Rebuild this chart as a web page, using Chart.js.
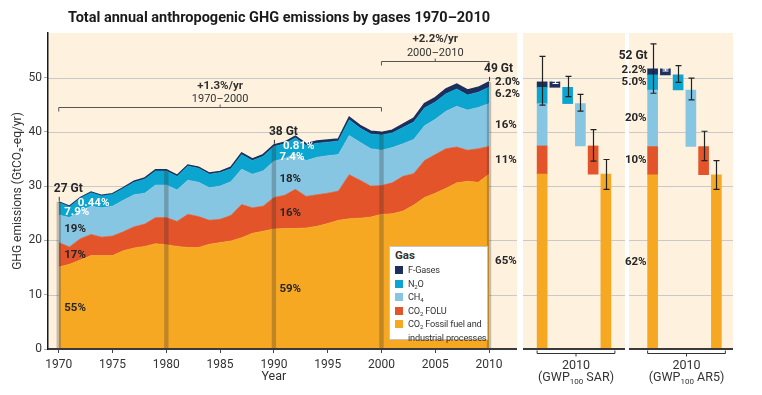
<!DOCTYPE html>
<html>
<head>
<meta charset="utf-8">
<script src="https://cdn.jsdelivr.net/npm/chart.js@4.4.1/dist/chart.umd.min.js"></script>
<style>
  html, body { margin: 0; padding: 0; background: #fff; }
  #wrap { position: relative; width: 762px; height: 395px; overflow: hidden; }
  canvas { position: absolute; top: 0; }
  #main { left: 0; }
  #sar { left: 520px; }
  #ar5 { left: 600px; }
  #legend { position: absolute; left: 389px; top: 246px; width: 99px; height: 94px; box-sizing: border-box;
    background: #fff; border: 1px solid #c4c4c4; padding: 1px 0 0 5px; white-space: nowrap;
    font: 9.2px Roboto, 'Noto Sans', sans-serif; letter-spacing: -0.2px; color: #333; line-height: 13.5px; }
  #legend .t { font-weight: bold; font-size: 11.5px; line-height: 15px; letter-spacing: 0; }
  #legend .i { position: relative; padding-left: 13px; }
  #legend .s { position: absolute; left: 0; top: 3px; width: 8px; height: 8px; }
  #legend sub { font-size: 6px; line-height: 0; vertical-align: -2px; }
</style>
</head>
<body>
<div id="wrap">
  <canvas id="main" width="520" height="395"></canvas>
  <canvas id="sar" width="107" height="395"></canvas>
  <canvas id="ar5" width="162" height="395"></canvas>
  <div id="legend"></div>
</div>
<script>
const years = [1970, 1971, 1972, 1973, 1974, 1975, 1976, 1977, 1978, 1979,
  1980, 1981, 1982, 1983, 1984, 1985, 1986, 1987, 1988, 1989,
  1990, 1991, 1992, 1993, 1994, 1995, 1996, 1997, 1998, 1999,
  2000, 2001, 2002, 2003, 2004, 2005, 2006, 2007, 2008, 2009, 2010];

// GtCO2-eq/yr per gas
const co2Fossil = [15.1, 15.6, 16.4, 17.2, 17.2, 17.2, 18.1, 18.6, 18.9, 19.4,
  19.2, 18.9, 18.7, 18.7, 19.3, 19.6, 19.9, 20.5, 21.3, 21.7,
  22.1, 22.2, 22.2, 22.3, 22.6, 23.1, 23.7, 24.0, 24.1, 24.3,
  24.8, 24.9, 25.4, 26.5, 27.9, 28.7, 29.6, 30.6, 30.9, 30.7, 32.2];
const co2Folu = [4.5, 3.2, 3.9, 3.9, 3.4, 3.6, 3.5, 3.9, 4.1, 4.8,
  5.0, 4.6, 6.1, 5.7, 4.4, 4.3, 4.7, 6.1, 4.7, 4.6,
  5.8, 6.1, 7.2, 5.8, 5.8, 5.6, 5.4, 8.1, 7.0, 5.7,
  5.3, 5.7, 6.4, 5.8, 6.8, 7.1, 7.3, 6.6, 5.7, 6.2, 5.1];
const ch4 = [5.1, 5.4, 5.2, 5.2, 5.4, 5.5, 5.8, 5.9, 5.7, 6.0,
  6.0, 5.8, 6.3, 6.3, 6.0, 6.1, 6.2, 6.5, 6.2, 6.5,
  6.7, 6.8, 6.5, 6.6, 6.9, 6.9, 6.7, 7.2, 7.0, 6.9,
  6.5, 6.5, 6.0, 6.3, 6.4, 6.5, 6.9, 7.5, 7.4, 7.6, 7.9];
const n2o = [2.3, 2.0, 2.3, 2.5, 2.2, 2.2, 2.2, 2.3, 2.6, 2.6,
  2.6, 2.5, 2.6, 2.6, 2.5, 2.5, 2.4, 2.7, 2.5, 2.7,
  2.7, 2.7, 3.0, 2.8, 2.6, 2.5, 2.5, 2.9, 2.6, 2.7,
  2.8, 2.7, 3.0, 3.2, 3.3, 3.2, 3.2, 3.2, 2.8, 2.8, 3.0];
const fGases = [0.1, 0.1, 0.1, 0.1, 0.1, 0.1, 0.1, 0.2, 0.2, 0.2,
  0.2, 0.2, 0.2, 0.2, 0.2, 0.2, 0.3, 0.3, 0.3, 0.3,
  0.3, 0.3, 0.3, 0.3, 0.4, 0.4, 0.4, 0.5, 0.5, 0.5,
  0.5, 0.5, 0.6, 0.7, 0.8, 0.8, 0.9, 0.9, 0.9, 0.9, 1.0];

const gasNames = ['CO<sub>2</sub> Fossil fuel and<br>industrial processes', 'CO<sub>2</sub> FOLU', 'CH<sub>4</sub>', 'N<sub>2</sub>O', 'F-Gases'];
const gasColors = ['#f7a823', '#e3542a', '#86c6e3', '#0ba5cf', '#1c2f5e'];

const xTicks = [1970, 1975, 1980, 1985, 1990, 1995, 2000, 2005, 2010];
const yTicks = [0, 10, 20, 30, 40, 50];

const bandYears = [1970, 1980, 1990, 2000, 2010];
const shareYears = [1970, 1990, 2010];
const totalLabels = ['27 Gt', '38 Gt', '49 Gt'];
const shareFossil = ['55%', '59%', '65%'];
const shareFolu = ['17%', '16%', '11%'];
const shareCh4 = ['19%', '18%', '16%'];
const shareN2o = ['7.9%', '7.4%', '6.2%'];
const shareF = ['0.44%', '0.81%', '2.0%'];

const rateLabels = ['+1.3%/yr', '+2.2%/yr'];
const rateFrom = [1970, 2000];
const rateTo = [2000, 2010];

// 2010 bars, order: fossil, FOLU, CH4, N2O, F-gases
const panelSlots = ['', 'Total', 'F-Gases', 'N2O', 'CH4', 'CO2 FOLU', 'CO2 Fossil', ''];
const sar2010 = [32.2, 5.2, 7.8, 3.0, 1.0];
const ar52010 = [32.1, 5.2, 10.4, 2.8, 1.1];
const ar5Shares = ['62%', '10%', '20%', '5.0%', '2.2%'];
const ar5Total = '52 Gt';
// uncertainty ranges, order: total, F-gases, N2O, CH4, FOLU, fossil
const sarErrLow = [44.9, 48.9, 46.5, 43.8, 34.6, 29.4];
const sarErrHigh = [53.9, 49.4, 50.2, 46.9, 40.4, 34.9];
const ar5ErrLow = [47.1, 51.2, 49.1, 45.9, 34.7, 29.4];
const ar5ErrHigh = [56.2, 51.6, 52.2, 49.9, 40.1, 34.7];

const FONT = "Roboto, 'Noto Sans', sans-serif";
const CREAM = '#fef2df';
const GRID = '#c9c9c9';
const INK = '#262626';
const YMAX = 58.2;

const series = [co2Fossil, co2Folu, ch4, n2o, fGases];

function gridLines(ctx, y, l, r) {
  ctx.strokeStyle = GRID;
  ctx.lineWidth = 1;
  yTicks.forEach(v => {
    if (!v) return;
    const py = Math.round(y.getPixelForValue(v)) + 0.5;
    ctx.beginPath(); ctx.moveTo(l, py); ctx.lineTo(r, py); ctx.stroke();
  });
}

function text(ctx, str, x, y, size, weight, color, align) {
  ctx.font = (weight || 'normal') + ' ' + size + 'px ' + FONT;
  ctx.fillStyle = color || INK;
  ctx.textAlign = align || 'left';
  ctx.textBaseline = 'middle';
  ctx.fillText(str, x, y);
}

// "(GWP" + subscript 100 + " SAR)"
function gwpText(ctx, method, cx, cy) {
  const parts = [['(GWP', 12.5, 0], ['100', 8, 4], [' ' + method + ')', 12.5, 0]];
  let w = 0;
  parts.forEach(p => { ctx.font = p[1] + 'px ' + FONT; w += ctx.measureText(p[0]).width; });
  let x = cx - w / 2;
  parts.forEach(p => {
    text(ctx, p[0], x, cy + p[2], p[1], 'normal', '#333', 'left');
    x += ctx.measureText(p[0]).width;
  });
}

const mainPlugin = {
  id: 'mainDeco',
  beforeDraw(chart) {
    const { ctx, chartArea: a, scales: { y } } = chart;
    ctx.save();
    ctx.fillStyle = CREAM;
    ctx.fillRect(a.left, a.top, a.right - a.left, a.bottom - a.top);
    gridLines(ctx, y, a.left, a.right);
    ctx.restore();
  },
  afterDatasetsDraw(chart) {
    const { ctx, chartArea: a, scales: { x, y } } = chart;
    ctx.save();
    ctx.fillStyle = 'rgba(50,45,45,0.28)';
    bandYears.forEach(yr => {
      const i = years.indexOf(yr);
      const tot = series.reduce((s, arr) => s + arr[i], 0);
      const px = x.getPixelForValue(yr);
      const top = y.getPixelForValue(tot);
      ctx.fillRect(px - 2.2, top, 4.4, y.getPixelForValue(0) - top);
    });
    ctx.fillStyle = '#3a3a3a';
    ctx.fillRect(a.left, a.bottom - 1, a.right - a.left, 2);
    ctx.restore();
  },
  afterDraw(chart) {
    const { ctx, scales: { x, y } } = chart;
    ctx.save();
    text(ctx, 'Total annual anthropogenic GHG emissions by gases 1970\u20132010', 279, 18, 14.5, 'bold', '#1a1a1a', 'center');

    // growth-rate brackets
    const bracketY = [107, 61];
    const rateY = [86, 39.5];
    rateLabels.forEach((lab, k) => {
      const x1 = x.getPixelForValue(rateFrom[k]), x2 = x.getPixelForValue(rateTo[k]);
      const cx = (x1 + x2) / 2, by = bracketY[k] + 0.5;
      ctx.strokeStyle = '#555'; ctx.lineWidth = 1;
      ctx.beginPath();
      ctx.moveTo(x1, by + 4); ctx.lineTo(x1, by); ctx.lineTo(x2, by); ctx.lineTo(x2, by + 4);
      ctx.moveTo(cx, by); ctx.lineTo(cx, by - 3);
      ctx.stroke();
      text(ctx, lab, cx, rateY[k], 11.5, 'bold', '#333', 'center');
      text(ctx, rateFrom[k] + '\u2013' + rateTo[k], cx, rateY[k] + 13.5, 11, 'normal', '#333', 'center');
    });

    // totals and shares
    shareYears.forEach((yr, k) => {
      const i = years.indexOf(yr);
      const tops = [];
      let run = 0;
      series.forEach(arr => { run += arr[i]; tops.push(run); });
      const mid = g => y.getPixelForValue(tops[g] - series[g][i] / 2);
      const px = x.getPixelForValue(yr);
      const pTop = y.getPixelForValue(tops[4]);
      ctx.strokeStyle = '#333'; ctx.lineWidth = 1;
      ctx.beginPath(); ctx.moveTo(px + 0.5, pTop - 5); ctx.lineTo(px + 0.5, pTop - 1); ctx.stroke();
      text(ctx, totalLabels[k], px - 5, pTop - 13, 12, 'bold', INK, 'left');
      const lx = px + (k === 2 ? 6 : 5.5);
      text(ctx, shareFossil[k], lx, mid(0), 11.5, 'bold', INK);
      text(ctx, shareFolu[k], lx, mid(1), 11.5, 'bold', INK);
      text(ctx, shareCh4[k], lx, mid(2), 11.5, 'bold', INK);
      if (k < 2) {
        text(ctx, shareN2o[k], lx, mid(3) + 3.5, 11.5, 'bold', '#fff');
        text(ctx, shareF[k], px + (k === 0 ? 19 : 9), pTop + 1, 11.5, 'bold', '#fff');
      } else {
        text(ctx, shareN2o[k], lx, mid(3) - 1, 11.5, 'bold', INK);
        text(ctx, shareF[k], lx, pTop, 11.5, 'bold', INK);
      }
    });

    text(ctx, 'Year', (x.getPixelForValue(xTicks[0]) + x.getPixelForValue(xTicks[xTicks.length - 1])) / 2, 377, 12.5, 'normal', '#333', 'center');
    ctx.restore();
  }
};

new Chart(document.getElementById('main'), {
  type: 'line',
  data: {
    datasets: series.map((s, g) => ({
      data: years.map((yr, i) => ({ x: yr, y: s[i] })),
      backgroundColor: gasColors[g],
      borderColor: gasColors[g],
      borderWidth: g === 4 ? 1.5 : 0.6,
      fill: g === 0 ? 'origin' : '-1',
      pointRadius: 0,
      tension: 0
    }))
  },
  options: {
    responsive: false,
    animation: false,
    layout: { padding: { top: 33, right: 3, bottom: 0, left: 0 } },
    plugins: { legend: { display: false }, tooltip: { enabled: false } },
    scales: {
      x: {
        type: 'linear', min: 1969, max: 2012.6,
        afterBuildTicks: s => { s.ticks = xTicks.map(v => ({ value: v })); },
        afterFit: s => { s.height = 46; },
        grid: { drawOnChartArea: false, drawTicks: true, tickLength: 4, color: '#444' },
        border: { display: false },
        ticks: { font: { family: FONT, size: 12 }, color: '#333', padding: 5, maxRotation: 0, callback: v => String(v) }
      },
      y: {
        min: 0, max: YMAX, stacked: true,
        afterBuildTicks: s => { s.ticks = yTicks.map(v => ({ value: v })); },
        afterFit: s => { s.width = 48; },
        grid: { drawOnChartArea: false, tickLength: 4, color: '#aaa' },
        border: { color: '#1a1a1a', width: 1.5 },
        ticks: { font: { family: FONT, size: 12 }, color: '#333', padding: 2 },
        title: { display: true, text: 'GHG emissions (GtCO\u2082-eq/yr)', font: { family: FONT, size: 12 }, color: '#333', padding: { top: 11, bottom: 0 } }
      }
    }
  },
  plugins: [mainPlugin]
});

const panelPlugin = {
  id: 'panelDeco',
  beforeDraw(chart, args, o) {
    const { ctx, chartArea: a, scales: { y } } = chart;
    const l = a.left + o.bgLeft, r = a.right + o.bgRight;
    ctx.save();
    ctx.fillStyle = CREAM;
    ctx.fillRect(l, a.top, r - l, a.bottom - a.top);
    gridLines(ctx, y, l, r);
    ctx.restore();
  },
  afterDatasetsDraw(chart, args, o) {
    const { ctx, chartArea: a, scales: { x, y } } = chart;
    const l = a.left + o.bgLeft, r = a.right + o.bgRight;
    ctx.save();
    ctx.fillStyle = '#3a3a3a';
    ctx.fillRect(l, a.bottom - 1, r - l, 2);
    o.errLow.forEach((lo, c) => {
      const px = Math.round(x.getPixelForValue(c + 1)) + 0.5;
      const p1 = y.getPixelForValue(lo), p2 = y.getPixelForValue(o.errHigh[c]);
      ctx.strokeStyle = c === 1 ? '#fff' : '#222';
      ctx.lineWidth = 1.2;
      ctx.beginPath();
      ctx.moveTo(px, p1); ctx.lineTo(px, p2);
      ctx.moveTo(px - 3, p1); ctx.lineTo(px + 3, p1);
      ctx.moveTo(px - 3, p2); ctx.lineTo(px + 3, p2);
      ctx.stroke();
    });
    ctx.restore();
  },
  afterDraw(chart, args, o) {
    const { ctx, chartArea: a, scales: { x, y } } = chart;
    ctx.save();
    const x1 = x.getPixelForValue(1) - 5, x2 = x.getPixelForValue(6) + 9;
    const cx = (x1 + x2) / 2, by = a.bottom + 4.5;
    ctx.strokeStyle = '#333'; ctx.lineWidth = 1;
    ctx.beginPath();
    ctx.moveTo(x1, by - 3); ctx.lineTo(x1, by); ctx.lineTo(x2, by); ctx.lineTo(x2, by - 3);
    ctx.moveTo(cx, by); ctx.lineTo(cx, by + 3);
    ctx.stroke();
    text(ctx, '2010', cx, a.bottom + 16.5, 12.5, 'normal', '#333', 'center');
    gwpText(ctx, o.method, cx, a.bottom + 29);

    if (o.shares) {
      const lx = x.getPixelForValue(1) - 6;
      let run = 0;
      const tops = o.values.map(v => (run += v));
      o.values.forEach((v, g) => {
        const py = y.getPixelForValue(tops[g] - v / 2) - (g === 4 ? 1.5 : 0);
        text(ctx, o.shares[g], lx, py, 11.5, 'bold', INK, 'right');
      });
      text(ctx, o.total, lx + 1, y.getPixelForValue(tops[4]) - 12.5, 12, 'bold', INK, 'right');
    }
    ctx.restore();
  }
};

function panelChart(id, values, errLow, errHigh, padding, extra) {
  const cum = [];
  let run = 0;
  values.forEach(v => { cum.push([run, run + v]); run += v; });
  const datasets = values.map((v, g) => {
    const data = panelSlots.map(() => null);
    data[1] = cum[g];
    data[6 - g] = cum[g];
    return { data, backgroundColor: gasColors[g], barThickness: 10, grouped: false, borderWidth: 0 };
  });
  return new Chart(document.getElementById(id), {
    type: 'bar',
    data: { labels: panelSlots, datasets },
    options: {
      responsive: false,
      animation: false,
      layout: { padding },
      plugins: {
        legend: { display: false }, tooltip: { enabled: false },
        panelDeco: Object.assign({ values, errLow, errHigh }, extra)
      },
      scales: {
        x: { display: false },
        y: { display: false, min: 0, max: YMAX }
      }
    },
    plugins: [panelPlugin]
  });
}

panelChart('sar', sar2010, sarErrLow, sarErrHigh,
  { top: 33, bottom: 46, left: 3, right: 2 },
  { bgLeft: 0, bgRight: 0, method: 'SAR' });
panelChart('ar5', ar52010, ar5ErrLow, ar5ErrHigh,
  { top: 33, bottom: 46, left: 33.5, right: 26.5 },
  { bgLeft: -4.5, bgRight: -2.5, method: 'AR5', shares: ar5Shares, total: ar5Total });

// legend, top entry first
const legend = document.getElementById('legend');
let html = '<div class="t">Gas</div>';
for (let g = gasNames.length - 1; g >= 0; g--) {
  html += '<div class="i"><span class="s" style="background:' + gasColors[g] + '"></span>' + gasNames[g] + '</div>';
}
legend.innerHTML = html;
</script>
</body>
</html>
